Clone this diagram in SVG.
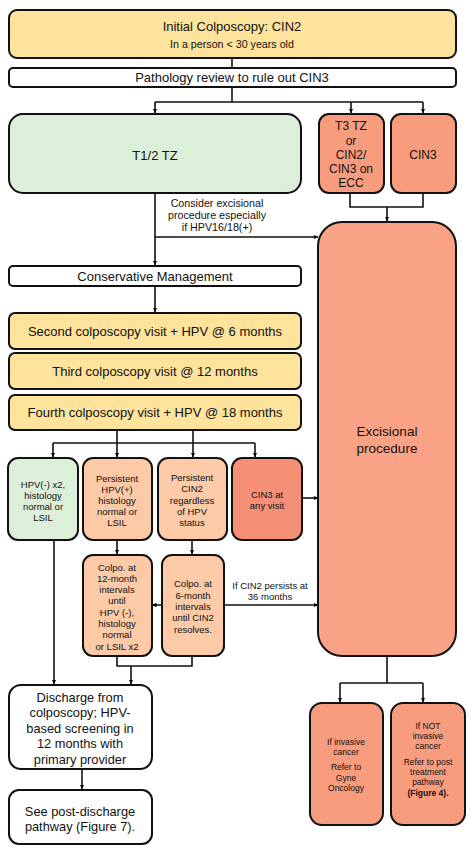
<svg xmlns="http://www.w3.org/2000/svg" width="474" height="854" viewBox="0 0 474 854">
<defs>
<marker id="ah" viewBox="0 0 10 10" refX="10" refY="5" markerWidth="4.5" markerHeight="4.5" orient="auto" markerUnits="userSpaceOnUse">
<path d="M0,0 L10,5 L0,10 z" fill="#000"/>
</marker>
<style>
.b{stroke:#111;stroke-width:2}
.y{fill:#FDE39C}.g{fill:#DCEFD8}.w{fill:#fff}.p{fill:#FCCAA7}.s{fill:#F89C7E}.d{fill:#F58F76}.e{fill:#FAA285}
text{font-family:"Liberation Sans",Arial,sans-serif;fill:#111;text-anchor:middle}
.t14{font-size:13px}.t13{font-size:13px}.t12{font-size:12px}.t11{font-size:10.7px}.t9{font-size:9.5px}.t8{font-size:8.5px}.td{font-size:12.8px}.tx{font-size:13.5px}
.c line,.c path,.c polyline{stroke:#111;stroke-width:1.6;fill:none}
</style>
</defs>
<rect width="474" height="854" fill="#fff"/>

<g class="c" id="connectors">
<line x1="232" y1="58" x2="232" y2="68"/>
<line x1="232" y1="87" x2="232" y2="102"/>
<line x1="155" y1="102" x2="423" y2="102"/>
<line x1="155" y1="102" x2="155" y2="113" marker-end="url(#ah)"/>
<line x1="351" y1="102" x2="351" y2="113" marker-end="url(#ah)"/>
<line x1="423" y1="102" x2="423" y2="113" marker-end="url(#ah)"/>
<polyline points="350,193 350,207 423,207 423,193"/>
<line x1="387" y1="207" x2="387" y2="221" marker-end="url(#ah)"/>
<line x1="155" y1="193" x2="155" y2="265" marker-end="url(#ah)"/>
<line x1="155" y1="237" x2="318" y2="237" marker-end="url(#ah)"/>
<line x1="155" y1="286" x2="155" y2="312" marker-end="url(#ah)"/>
<line x1="117" y1="430" x2="117" y2="443"/>
<line x1="193" y1="430" x2="193" y2="443"/>
<line x1="53" y1="443" x2="255" y2="443"/>
<line x1="53" y1="443" x2="53" y2="457" marker-end="url(#ah)"/>
<line x1="117" y1="443" x2="117" y2="457" marker-end="url(#ah)"/>
<line x1="193" y1="443" x2="193" y2="457" marker-end="url(#ah)"/>
<line x1="255" y1="443" x2="255" y2="457" marker-end="url(#ah)"/>
<line x1="302" y1="498" x2="318" y2="498" marker-end="url(#ah)"/>
<line x1="117" y1="540" x2="117" y2="554" marker-end="url(#ah)"/>
<line x1="192" y1="540" x2="192" y2="554" marker-end="url(#ah)"/>
<line x1="162" y1="605" x2="152" y2="605" marker-end="url(#ah)"/>
<line x1="224" y1="605" x2="318" y2="605" marker-end="url(#ah)"/>
<line x1="54" y1="540" x2="54" y2="684" marker-end="url(#ah)"/>
<polyline points="117,656 117,666 192,666 192,656"/>
<line x1="131" y1="666" x2="131" y2="684" marker-end="url(#ah)"/>
<line x1="82" y1="769" x2="82" y2="789" marker-end="url(#ah)"/>
<line x1="387" y1="656" x2="387" y2="683"/>
<line x1="340" y1="683" x2="423" y2="683"/>
<line x1="340" y1="683" x2="340" y2="702" marker-end="url(#ah)"/>
<line x1="423" y1="683" x2="423" y2="702" marker-end="url(#ah)"/>
</g>

<g id="initial"><rect class="b y" x="9" y="10" width="447" height="48" rx="8"/>
<text class="t14" x="232" y="31">Initial Colposcopy: CIN2</text>
<text class="t11" x="232" y="48">In a person &lt; 30 years old</text></g>

<g id="pathology"><rect class="b w" x="9" y="68" width="447" height="19" rx="4"/>
<text class="t13" x="232" y="82">Pathology review to rule out CIN3</text></g>

<g id="t12tz"><rect class="b g" x="9" y="114" width="292" height="79" rx="14"/>
<text class="t14" x="155" y="160">T1/2 TZ</text></g>

<g id="t3tz"><rect class="b s" x="319" y="114" width="65" height="79" rx="10"/>
<text class="t12" x="351" y="130">T3 TZ</text>
<text class="t12" x="351" y="145">or</text>
<text class="t12" x="351" y="159">CIN2/</text>
<text class="t12" x="351" y="173">CIN3 on</text>
<text class="t12" x="351" y="187">ECC</text></g>

<g id="cin3"><rect class="b s" x="391" y="114" width="65" height="79" rx="10"/>
<text class="t12" x="423" y="159">CIN3</text></g>

<g id="consider-label">
<text class="t11" x="217" y="207">Consider excisional</text>
<text class="t11" x="217" y="219">procedure especially</text>
<text class="t11" x="217" y="231">if HPV16/18(+)</text></g>

<g id="conservative"><rect class="b w" x="9" y="266" width="292" height="20" rx="4"/>
<text class="t13" x="155" y="281">Conservative Management</text></g>

<g id="second"><rect class="b y" x="9" y="313" width="292" height="36" rx="6"/>
<text class="t14" x="155" y="336">Second colposcopy visit + HPV @ 6 months</text></g>

<g id="third"><rect class="b y" x="9" y="353" width="292" height="36" rx="6"/>
<text class="t14" x="155" y="376">Third colposcopy visit @ 12 months</text></g>

<g id="fourth"><rect class="b y" x="9" y="395" width="292" height="35" rx="6"/>
<text class="t14" x="155" y="417">Fourth colposcopy visit + HPV @ 18 months</text></g>

<g id="excisional"><rect class="b e" x="318" y="222" width="138" height="434" rx="24"/>
<text class="tx" x="387" y="436">Excisional</text>
<text class="tx" x="387" y="453">procedure</text></g>

<g id="hpvneg"><rect class="b g" x="8" y="458" width="70" height="82" rx="10"/>
<text class="t9" x="43" y="488">HPV(-) x2,</text>
<text class="t9" x="43" y="499">histology</text>
<text class="t9" x="43" y="510">normal or</text>
<text class="t9" x="43" y="521">LSIL</text></g>

<g id="persistent-hpv"><rect class="b p" x="83" y="458" width="69" height="82" rx="10"/>
<text class="t9" x="117" y="482">Persistent</text>
<text class="t9" x="117" y="493">HPV(+)</text>
<text class="t9" x="117" y="504">histology</text>
<text class="t9" x="117" y="515">normal or</text>
<text class="t9" x="117" y="526">LSIL</text></g>

<g id="persistent-cin2"><rect class="b p" x="158" y="458" width="69" height="82" rx="10"/>
<text class="t9" x="192" y="481">Persistent</text>
<text class="t9" x="192" y="492">CIN2</text>
<text class="t9" x="192" y="504">regardless</text>
<text class="t9" x="192" y="515">of HPV</text>
<text class="t9" x="192" y="526">status</text></g>

<g id="cin3-any"><rect class="b d" x="232" y="458" width="70" height="82" rx="10"/>
<text class="t9" x="267" y="498">CIN3 at</text>
<text class="t9" x="267" y="509">any visit</text></g>

<g id="colpo12"><rect class="b p" x="83" y="555" width="69" height="101" rx="10"/>
<text class="t9" x="117" y="571">Colpo. at</text>
<text class="t9" x="117" y="582">12-month</text>
<text class="t9" x="117" y="593">intervals</text>
<text class="t9" x="117" y="604">until</text>
<text class="t9" x="117" y="616">HPV (-),</text>
<text class="t9" x="117" y="627">histology</text>
<text class="t9" x="117" y="638">normal</text>
<text class="t9" x="117" y="650">or LSIL x2</text></g>

<g id="colpo6"><rect class="b p" x="162" y="555" width="62" height="101" rx="10"/>
<text class="t9" x="193" y="587">Colpo. at</text>
<text class="t9" x="193" y="599">6-month</text>
<text class="t9" x="193" y="610">intervals</text>
<text class="t9" x="193" y="621">until CIN2</text>
<text class="t9" x="193" y="633">resolves.</text></g>

<g id="persist36-label">
<text class="t9" x="270" y="589">If CIN2 persists at</text>
<text class="t9" x="270" y="600">36 months</text></g>

<g id="discharge"><rect class="b w" x="9" y="685" width="143" height="84" rx="12"/>
<text class="td" x="80" y="702">Discharge from</text>
<text class="td" x="80" y="717">colposcopy; HPV-</text>
<text class="td" x="80" y="733">based screening in</text>
<text class="td" x="80" y="748">12 months with</text>
<text class="td" x="80" y="764">primary provider</text></g>

<g id="post-discharge"><rect class="b w" x="9" y="790" width="143" height="54" rx="10"/>
<text class="td" x="80" y="816">See post-discharge</text>
<text class="td" x="80" y="831">pathway (Figure 7).</text></g>

<g id="invasive"><rect class="b s" x="310" y="703" width="73" height="122" rx="12"/>
<text class="t8" x="346" y="745">If invasive</text>
<text class="t8" x="346" y="755">cancer</text>
<text class="t8" x="346" y="770">Refer to</text>
<text class="t8" x="346" y="781">Gyne</text>
<text class="t8" x="346" y="791">Oncology</text></g>

<g id="not-invasive"><rect class="b s" x="391" y="703" width="74" height="122" rx="12"/>
<text class="t8" x="428" y="729">If NOT</text>
<text class="t8" x="428" y="739">invasive</text>
<text class="t8" x="428" y="749">cancer</text>
<text class="t8" x="428" y="765">Refer to post</text>
<text class="t8" x="428" y="775">treatment</text>
<text class="t8" x="428" y="785">pathway</text>
<text class="t8" x="428" y="796" font-weight="bold">(Figure 4).</text></g>
</svg>
